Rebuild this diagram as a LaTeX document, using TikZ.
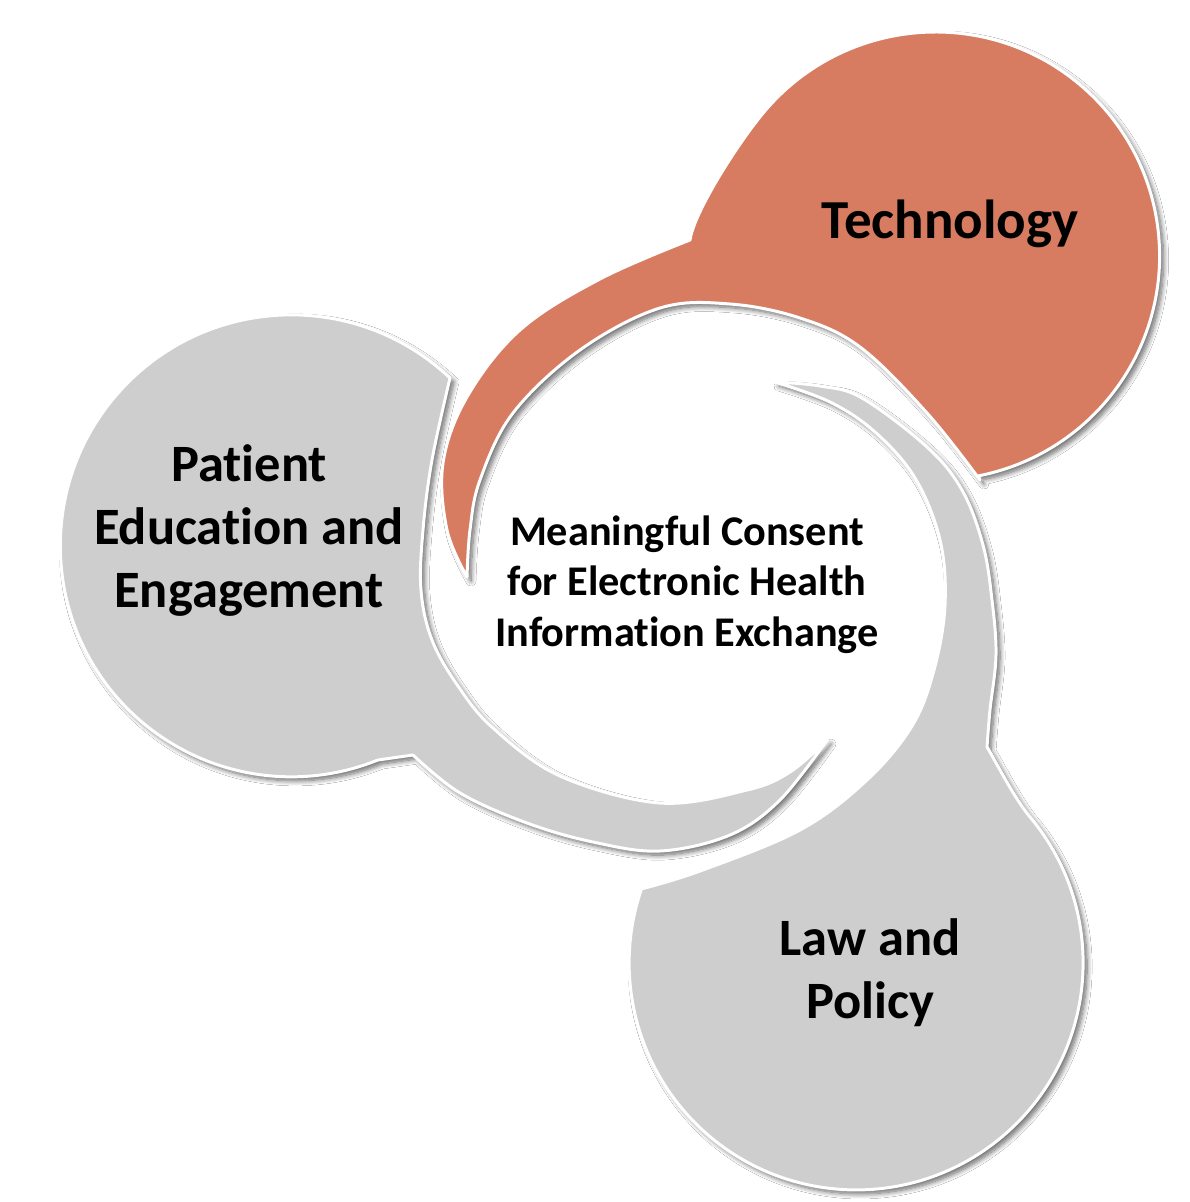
\documentclass[tikz,border=0pt]{standalone}
\usepackage{fontspec}
\setmainfont{Carlito}[Ligatures=NoCommon]
\usetikzlibrary{shadows.blur}
\definecolor{techorange}{RGB}{215,124,97}
\definecolor{panelgray}{RGB}{206,206,206}
\tikzset{
  swirlpanel/.style={draw=white, line width=3pt, line join=round,
    blur shadow={shadow xshift=4pt, shadow yshift=-4pt,
      shadow blur radius=5pt, shadow blur steps=10, shadow opacity=60}},
  outerlabel/.style={font=\bfseries\fontsize{52.5}{63}\selectfont,
    align=center, inner sep=0pt, anchor=base},
  centerlabel/.style={font=\bfseries\fontsize{42.3}{50.5}\selectfont,
    align=center, inner sep=0pt, anchor=base}
}
\begin{document}
\begin{tikzpicture}[x=1pt, y=-1pt]
  \fill[white] (0,0) rectangle (1190,1202);
  \useasboundingbox (0,0) rectangle (1190,1202);

  \path[swirlpanel, fill=techorange]
    plot[smooth, tension=0.6] coordinates {(467,577) (447,530) (443,463)
      (467,397) (520,330) (600,279) (690,240)}
    .. controls (694,212) and (738,143) .. (764,112)
    arc[start angle=220, end angle=439, radius=224]
    -- plot[smooth, tension=0.6] coordinates {(980,480) (927,413) (860,347)
      (800,318) (730,304) (660,308) (580,350) (513,413) (480,480) (470,530)
      (467,577)}
    -- cycle;

  \path[swirlpanel, fill=panelgray]
    (987,747) .. controls (995,760) and (1014,798) .. (1030,817)
    arc[start angle=-40, end angle=199, radius=227]
    -- plot[smooth, tension=0.6] coordinates {(641,889) (700,871) (800,830)
      (867,780) (912,726) (934,670) (945,605) (940,540) (915,478) (875,432)
      (830,402) (775,382)}
    -- plot[smooth, tension=0.6] coordinates {(775,382) (820,386) (862,398)
      (927,447) (962,490) (983,545) (992,600) (996,655) (990,710) (987,747)}
    -- cycle;

  \path[swirlpanel, fill=panelgray]
    (450,378) arc[start angle=-46.6, end angle=-292, radius=231]
    -- plot[smooth, tension=0.6] coordinates {(413,755) (460,793) (527,823)
      (593,842) (660,851) (730,835) (780,800) (827,740)}
    -- plot[smooth, tension=0.6] coordinates {(827,740) (790,772) (747,790)
      (660,803) (560,776) (493,728) (458,686) (432,640) (421,590) (423,530)
      (432,460) (450,378)}
    -- cycle;

  \node[outerlabel, font=\bfseries\fontsize{55}{63}\selectfont]
    (tech) at (950,238) {Technology};
  \node[outerlabel] (patient) at (249,607) {Patient\\Education and\\Engagement};
  \node[outerlabel] (law) at (870,1018) {Law and\\Policy};
  \node[centerlabel] (consent) at (687,646)
    {Meaningful Consent\\for Electronic Health\\Information Exchange};
\end{tikzpicture}
\end{document}
